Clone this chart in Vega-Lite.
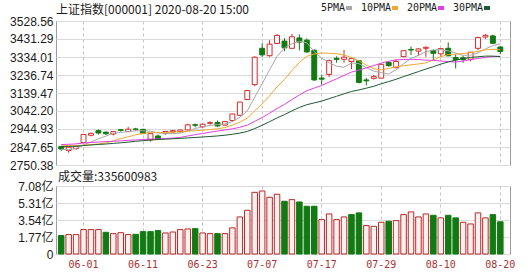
{
"$schema": "https://vega.github.io/schema/vega-lite/v6.json",
"padding": {"left": 5, "top": 3, "right": 5, "bottom": 0},
"background": "white",
"config": {
  "view": {"stroke": "#9c9c9c", "strokeWidth": 1},
  "font": "Liberation Sans",
  "axis": {"domain": false, "ticks": false, "labelFont": "Liberation Sans, Noto Sans CJK SC", "labelFontSize": 12, "labelColor": "#1a1a1a", "gridColor": "#dadada", "gridWidth": 1},
  "title": {"font": "Noto Sans CJK SC", "fontSize": 12, "fontWeight": "normal", "color": "#1a1a1a", "anchor": "start", "frame": "group"}
},
"datasets": {"d": [
{"date":"2020-05-27","o":2849.66,"h":2853,"l":2827,"c":2836.8,"ma5":2836.54,"ma10":2857.92,"ma20":2860.83,"ma30":2848.91,"vol":1.92,"cd":"down","vd":"down"},
{"date":"2020-05-28","o":2828.4,"h":2847,"l":2817,"c":2846.55,"ma5":2832.26,"ma10":2855.54,"ma20":2862.39,"ma30":2851.02,"vol":2.02,"cd":"up","vd":"up"},
{"date":"2020-05-29","o":2839,"h":2856,"l":2833,"c":2852.35,"ma5":2839.98,"ma10":2853.93,"ma20":2864.5,"ma30":2851.86,"vol":2.02,"cd":"up","vd":"up"},
{"date":"2020-06-01","o":2871.9,"h":2916,"l":2871.9,"c":2915.43,"ma5":2859.47,"ma10":2857.93,"ma20":2869.15,"ma30":2855.33,"vol":2.54,"cd":"up","vd":"up"},
{"date":"2020-06-02","o":2911,"h":2925,"l":2905,"c":2921.4,"ma5":2874.51,"ma10":2860.22,"ma20":2872.22,"ma30":2858.72,"vol":2.54,"cd":"up","vd":"up"},
{"date":"2020-06-03","o":2936,"h":2942.5,"l":2915,"c":2923.37,"ma5":2891.82,"ma10":2864.18,"ma20":2874.48,"ma30":2861.54,"vol":2.54,"cd":"down","vd":"up"},
{"date":"2020-06-04","o":2928,"h":2931,"l":2912,"c":2919.25,"ma5":2906.36,"ma10":2869.31,"ma20":2876.87,"ma30":2863.77,"vol":2.26,"cd":"down","vd":"down"},
{"date":"2020-06-05","o":2918,"h":2932,"l":2910,"c":2930.8,"ma5":2922.05,"ma10":2881.01,"ma20":2878.64,"ma30":2867.23,"vol":2.12,"cd":"up","vd":"up"},
{"date":"2020-06-08","o":2941,"h":2945,"l":2931,"c":2937.77,"ma5":2926.52,"ma10":2892.99,"ma20":2880.79,"ma30":2870.35,"vol":2.22,"cd":"down","vd":"up"},
{"date":"2020-06-09","o":2931,"h":2956,"l":2928,"c":2943.75,"ma5":2930.99,"ma10":2902.75,"ma20":2883.4,"ma30":2873.86,"vol":2.02,"cd":"up","vd":"up"},
{"date":"2020-06-10","o":2945,"h":2951,"l":2936,"c":2943.32,"ma5":2934.98,"ma10":2913.4,"ma20":2885.66,"ma30":2878.36,"vol":2.05,"cd":"down","vd":"down"},
{"date":"2020-06-11","o":2943,"h":2946,"l":2916,"c":2920.9,"ma5":2935.31,"ma10":2920.83,"ma20":2888.19,"ma30":2881.87,"vol":2.33,"cd":"down","vd":"down"},
{"date":"2020-06-12","o":2886,"h":2921,"l":2877,"c":2919.74,"ma5":2933.1,"ma10":2927.57,"ma20":2890.75,"ma30":2885.53,"vol":2.33,"cd":"up","vd":"down"},
{"date":"2020-06-15","o":2907,"h":2915,"l":2887,"c":2890.03,"ma5":2923.55,"ma10":2925.03,"ma20":2891.48,"ma30":2887.78,"vol":2.44,"cd":"down","vd":"down"},
{"date":"2020-06-16","o":2921,"h":2932,"l":2914,"c":2931.75,"ma5":2921.15,"ma10":2926.07,"ma20":2893.14,"ma30":2890.17,"vol":2.19,"cd":"up","vd":"up"},
{"date":"2020-06-17","o":2930,"h":2940,"l":2924,"c":2935.87,"ma5":2919.66,"ma10":2927.32,"ma20":2895.75,"ma30":2892.09,"vol":2.29,"cd":"up","vd":"up"},
{"date":"2020-06-18","o":2931,"h":2941,"l":2925,"c":2939.32,"ma5":2923.34,"ma10":2929.33,"ma20":2899.32,"ma30":2894.35,"vol":2.54,"cd":"up","vd":"up"},
{"date":"2020-06-19","o":2940,"h":2973,"l":2937,"c":2967.63,"ma5":2932.92,"ma10":2933.01,"ma20":2907.01,"ma30":2896.76,"vol":2.61,"cd":"up","vd":"up"},
{"date":"2020-06-22","o":2968,"h":2974,"l":2954,"c":2965.27,"ma5":2947.97,"ma10":2935.76,"ma20":2914.38,"ma30":2899.11,"vol":2.64,"cd":"down","vd":"down"},
{"date":"2020-06-23","o":2957,"h":2975,"l":2949,"c":2970.62,"ma5":2955.74,"ma10":2938.45,"ma20":2920.6,"ma30":2901.75,"vol":2.19,"cd":"up","vd":"up"},
{"date":"2020-06-24","o":2976,"h":2986,"l":2968,"c":2979.55,"ma5":2964.48,"ma10":2942.07,"ma20":2927.73,"ma30":2904.46,"vol":2.12,"cd":"up","vd":"up"},
{"date":"2020-06-29","o":2980,"h":2991,"l":2955,"c":2961.52,"ma5":2968.92,"ma10":2946.13,"ma20":2933.48,"ma30":2907.5,"vol":2.12,"cd":"down","vd":"down"},
{"date":"2020-06-30","o":2966,"h":2986,"l":2964,"c":2984.67,"ma5":2972.33,"ma10":2952.62,"ma20":2940.1,"ma30":2911.38,"vol":2.12,"cd":"up","vd":"up"},
{"date":"2020-07-01","o":2991,"h":3027,"l":2985,"c":3025.98,"ma5":2984.47,"ma10":2966.22,"ma20":2945.63,"ma30":2916.39,"vol":2.72,"cd":"up","vd":"up"},
{"date":"2020-07-02","o":3019,"h":3091,"l":3015,"c":3090.57,"ma5":3008.46,"ma10":2982.1,"ma20":2954.08,"ma30":2922.79,"vol":3.86,"cd":"up","vd":"up"},
{"date":"2020-07-03","o":3104,"h":3153,"l":3101,"c":3152.81,"ma5":3043.11,"ma10":3003.79,"ma20":2965.56,"ma30":2931.76,"vol":4.55,"cd":"up","vd":"up"},
{"date":"2020-07-06","o":3185,"h":3338,"l":3176,"c":3332.88,"ma5":3117.38,"ma10":3043.15,"ma20":2986.24,"ma30":2947.26,"vol":6.42,"cd":"up","vd":"up"},
{"date":"2020-07-07","o":3381,"h":3409,"l":3334,"c":3345.34,"ma5":3189.52,"ma10":3080.92,"ma20":3006.96,"ma30":2964.98,"vol":6.56,"cd":"down","vd":"up"},
{"date":"2020-07-08","o":3341,"h":3425,"l":3335,"c":3403.44,"ma5":3265.01,"ma10":3124.74,"ma20":3030.25,"ma30":2984.5,"vol":5.91,"cd":"up","vd":"up"},
{"date":"2020-07-09","o":3407,"h":3458,"l":3405,"c":3450.59,"ma5":3337.01,"ma10":3172.74,"ma20":3055.59,"ma30":3004.64,"vol":6.22,"cd":"up","vd":"up"},
{"date":"2020-07-10","o":3420,"h":3436,"l":3365,"c":3383.32,"ma5":3383.11,"ma10":3213.11,"ma20":3077.59,"ma30":3022.86,"vol":5.49,"cd":"down","vd":"down"},
{"date":"2020-07-13","o":3381,"h":3458,"l":3378,"c":3443.29,"ma5":3405.2,"ma10":3261.29,"ma20":3103.71,"ma30":3042.75,"vol":5.66,"cd":"up","vd":"up"},
{"date":"2020-07-14","o":3437,"h":3456,"l":3370,"c":3414.62,"ma5":3419.05,"ma10":3304.28,"ma20":3128.45,"ma30":3061.49,"vol":5.42,"cd":"down","vd":"down"},
{"date":"2020-07-15","o":3425,"h":3434,"l":3357,"c":3361.3,"ma5":3410.62,"ma10":3337.82,"ma20":3152.02,"ma30":3076.36,"vol":4.97,"cd":"down","vd":"down"},
{"date":"2020-07-16","o":3370,"h":3376,"l":3205,"c":3210.1,"ma5":3362.53,"ma10":3349.77,"ma20":3165.93,"ma30":3085.98,"vol":4.97,"cd":"down","vd":"down"},
{"date":"2020-07-17","o":3220,"h":3239,"l":3184,"c":3214.13,"ma5":3328.69,"ma10":3355.9,"ma20":3179.85,"ma30":3095.67,"vol":3.58,"cd":"down","vd":"up"},
{"date":"2020-07-20","o":3240,"h":3320,"l":3226,"c":3314.15,"ma5":3302.86,"ma10":3354.03,"ma20":3198.59,"ma30":3108.83,"vol":4.17,"cd":"up","vd":"up"},
{"date":"2020-07-21","o":3327,"h":3338,"l":3303,"c":3320.9,"ma5":3284.12,"ma10":3351.58,"ma20":3216.25,"ma30":3121.84,"vol":3.58,"cd":"down","vd":"up"},
{"date":"2020-07-22","o":3322,"h":3372,"l":3303,"c":3333.16,"ma5":3278.49,"ma10":3344.56,"ma20":3234.65,"ma30":3135.02,"vol":3.86,"cd":"up","vd":"up"},
{"date":"2020-07-23","o":3310,"h":3331,"l":3268,"c":3325.11,"ma5":3301.49,"ma10":3332.01,"ma20":3252.37,"ma30":3147.73,"vol":4.1,"cd":"up","vd":"down"},
{"date":"2020-07-24","o":3314,"h":3317,"l":3191,"c":3196.77,"ma5":3298.02,"ma10":3313.35,"ma20":3263.23,"ma30":3156.18,"vol":4.28,"cd":"down","vd":"down"},
{"date":"2020-07-27","o":3210,"h":3221,"l":3180,"c":3205.23,"ma5":3276.23,"ma10":3289.55,"ma20":3275.42,"ma30":3165.66,"vol":2.96,"cd":"down","vd":"up"},
{"date":"2020-07-28","o":3219,"h":3237,"l":3212,"c":3227.96,"ma5":3257.65,"ma10":3270.88,"ma20":3287.58,"ma30":3175.93,"vol":2.88,"cd":"up","vd":"up"},
{"date":"2020-07-29","o":3220,"h":3295,"l":3219,"c":3294.55,"ma5":3249.92,"ma10":3264.21,"ma20":3301.01,"ma30":3189.41,"vol":3.3,"cd":"up","vd":"up"},
{"date":"2020-07-30","o":3304,"h":3310,"l":3282,"c":3286.82,"ma5":3242.27,"ma10":3271.88,"ma20":3310.82,"ma30":3201.25,"vol":3.41,"cd":"down","vd":"down"},
{"date":"2020-07-31","o":3276,"h":3320,"l":3273,"c":3310.01,"ma5":3264.91,"ma10":3281.47,"ma20":3318.68,"ma30":3213.72,"vol":3.48,"cd":"up","vd":"up"},
{"date":"2020-08-03","o":3336,"h":3368,"l":3333,"c":3367.97,"ma5":3297.46,"ma10":3286.85,"ma20":3320.44,"ma30":3228.01,"vol":4.1,"cd":"up","vd":"up"},
{"date":"2020-08-04","o":3375,"h":3391,"l":3344,"c":3371.69,"ma5":3326.21,"ma10":3291.93,"ma20":3321.76,"ma30":3241.48,"vol":4.38,"cd":"down","vd":"up"},
{"date":"2020-08-05","o":3366,"h":3383,"l":3340,"c":3377.56,"ma5":3342.81,"ma10":3296.37,"ma20":3320.46,"ma30":3255.22,"vol":3.86,"cd":"up","vd":"up"},
{"date":"2020-08-06","o":3381,"h":3391,"l":3335,"c":3386.46,"ma5":3362.74,"ma10":3302.5,"ma20":3317.26,"ma30":3269.08,"vol":4.17,"cd":"up","vd":"up"},
{"date":"2020-08-07","o":3370,"h":3373,"l":3316,"c":3354.04,"ma5":3371.54,"ma10":3318.23,"ma20":3315.79,"ma30":3281.56,"vol":4.03,"cd":"down","vd":"down"},
{"date":"2020-08-10","o":3351,"h":3380,"l":3335,"c":3379.25,"ma5":3373.8,"ma10":3335.63,"ma20":3312.59,"ma30":3295.49,"vol":3.76,"cd":"up","vd":"up"},
{"date":"2020-08-11","o":3381,"h":3413,"l":3340,"c":3340.29,"ma5":3367.52,"ma10":3346.86,"ma20":3308.87,"ma30":3307.34,"vol":4.03,"cd":"down","vd":"down"},
{"date":"2020-08-12","o":3331,"h":3348,"l":3272,"c":3319.27,"ma5":3355.86,"ma10":3349.34,"ma20":3306.77,"ma30":3317.12,"vol":3.76,"cd":"down","vd":"down"},
{"date":"2020-08-13","o":3330,"h":3343,"l":3303,"c":3320.73,"ma5":3342.72,"ma10":3352.73,"ma20":3312.3,"ma30":3324.79,"vol":3.3,"cd":"down","vd":"up"},
{"date":"2020-08-14","o":3322,"h":3361,"l":3310,"c":3360.1,"ma5":3343.93,"ma10":3357.74,"ma20":3319.6,"ma30":3331.7,"vol":3.13,"cd":"up","vd":"up"},
{"date":"2020-08-17","o":3381,"h":3444,"l":3371,"c":3438.8,"ma5":3355.84,"ma10":3364.82,"ma20":3325.83,"ma30":3335.23,"vol":4.28,"cd":"up","vd":"up"},
{"date":"2020-08-18","o":3442,"h":3458,"l":3432,"c":3451.09,"ma5":3378.0,"ma10":3372.76,"ma20":3332.34,"ma30":3338.76,"vol":3.76,"cd":"up","vd":"up"},
{"date":"2020-08-19","o":3448,"h":3455,"l":3404,"c":3408.13,"ma5":3395.77,"ma10":3375.82,"ma20":3336.09,"ma30":3338.91,"vol":4.1,"cd":"down","vd":"down"},
{"date":"2020-08-20","o":3388,"h":3393,"l":3350,"c":3363.9,"ma5":3404.4,"ma10":3373.56,"ma20":3338.03,"ma30":3336.02,"vol":3.356,"cd":"down","vd":"down"}
]},
"data": {"name": "d"},
"spacing": -2,
"resolve": {"scale": {"fill": "independent", "stroke": "independent", "y": "independent"}},
"vconcat": [
{
  "width": 454, "height": 144,
  "title": {"text": "上证指数[000001] 2020-08-20 15:00", "offset": -2},
  "encoding": {
    "x": {"field": "date", "type": "ordinal",
      "scale": {"type": "band", "paddingInner": 0, "paddingOuter": 0.5, "align": 0.2},
      "axis": {"title": null, "values": ["2020-06-01","2020-06-11","2020-06-23","2020-07-07","2020-07-17","2020-07-29","2020-08-10","2020-08-20"], "labels": false, "grid": true, "gridDash": [3,3], "gridColor": "#c4c4c4", "bandPosition": 0.5, "minExtent": 0, "maxExtent": 0}}
  },
  "layer": [
    {"mark": {"type": "rule", "strokeWidth": 1},
     "encoding": {
       "y": {"field": "l", "type": "quantitative", "scale": {"domain": [2750.38, 3528.56], "nice": false, "zero": false},
             "axis": {"title": null, "values": [2750.38,2847.65,2944.93,3042.2,3139.47,3236.74,3334.01,3431.29,3528.56], "format": ".2f", "grid": true, "minExtent": 50, "maxExtent": 50, "labelPadding": 3}},
       "y2": {"field": "h"},
       "stroke": {"field": "cd", "type": "nominal", "scale": {"domain": ["up","down"], "range": ["#d42a2a","#127a12"]}, "legend": null}
     }},
    {"mark": {"type": "bar", "width": {"band": 0.66}, "strokeWidth": 1},
     "encoding": {
       "y": {"field": "o", "type": "quantitative", "scale": {"domain": [2750.38, 3528.56], "nice": false, "zero": false},
             "axis": {"title": null, "values": [2750.38,2847.65,2944.93,3042.2,3139.47,3236.74,3334.01,3431.29,3528.56], "format": ".2f", "grid": true, "minExtent": 50, "maxExtent": 50, "labelPadding": 3}},
       "y2": {"field": "c"},
       "fill": {"field": "cd", "type": "nominal", "scale": {"domain": ["up","down"], "range": ["#ffffff","#127a12"]}, "legend": null},
       "stroke": {"field": "cd", "type": "nominal", "scale": {"domain": ["up","down"], "range": ["#d42a2a","#127a12"]}, "legend": null}
     }},
    {"transform": [{"fold": ["ma5","ma10","ma20","ma30"], "as": ["ma","val"]}],
     "mark": {"type": "line", "strokeWidth": 1},
     "encoding": {
       "y": {"field": "val", "type": "quantitative", "scale": {"domain": [2750.38, 3528.56], "nice": false, "zero": false},
             "axis": {"title": null, "values": [2750.38,2847.65,2944.93,3042.2,3139.47,3236.74,3334.01,3431.29,3528.56], "format": ".2f", "grid": true, "minExtent": 50, "maxExtent": 50, "labelPadding": 3}},
       "color": {"field": "ma", "type": "nominal",
         "scale": {"domain": ["ma5","ma10","ma20","ma30"], "range": ["#a8a8a8","#f0a830","#e040e0","#1f5a33"]},
         "legend": {"orient": "none", "legendX": 288, "legendY": -18, "direction": "horizontal", "title": null,
           "symbolType": "stroke", "symbolSize": 36, "symbolStrokeWidth": 4, "labelFont": "DejaVu Sans Mono", "labelFontSize": 10, "labelColor": "#1a1a1a",
           "labelAlign": "right", "labelOffset": -9, "columnPadding": 0,
           "labelExpr": "replace(datum.label, 'ma', '') + 'PMA'"}}
     }}
  ]
},
{
  "width": 454, "height": 68,
  "title": {"text": "成交量:335600983", "offset": -4, "dx": 2},
  "mark": {"type": "bar", "width": {"band": 0.74}, "strokeWidth": 1},
  "encoding": {
    "x": {"field": "date", "type": "ordinal",
      "scale": {"type": "band", "paddingInner": 0, "paddingOuter": 0.5, "align": 0.2},
      "axis": {"title": null, "values": ["2020-06-01","2020-06-11","2020-06-23","2020-07-07","2020-07-17","2020-07-29","2020-08-10","2020-08-20"], "labelExpr": "substring(datum.label, 5)", "labelAngle": 0, "grid": true, "gridDash": [3,3], "gridColor": "#c4c4c4", "bandPosition": 0.5, "labelColor": "#a83232", "labelFont": "DejaVu Sans Mono", "labelFontSize": 10, "labelPadding": 5}},
    "y": {"field": "vol", "type": "quantitative", "scale": {"domain": [0, 7.08], "nice": false},
      "axis": {"title": null, "values": [0,1.77,3.54,5.31,7.08], "labelExpr": "datum.value == 0 ? '0' : format(datum.value, '.2f') + '亿'", "grid": true, "minExtent": 50, "maxExtent": 50, "labelPadding": 3}},
    "fill": {"field": "vd", "type": "nominal", "scale": {"domain": ["up","down"], "range": ["#fff0f0","#127a12"]}, "legend": null},
    "stroke": {"field": "vd", "type": "nominal", "scale": {"domain": ["up","down"], "range": ["#b52a2a","#127a12"]}, "legend": null}
  }
}
]
}
